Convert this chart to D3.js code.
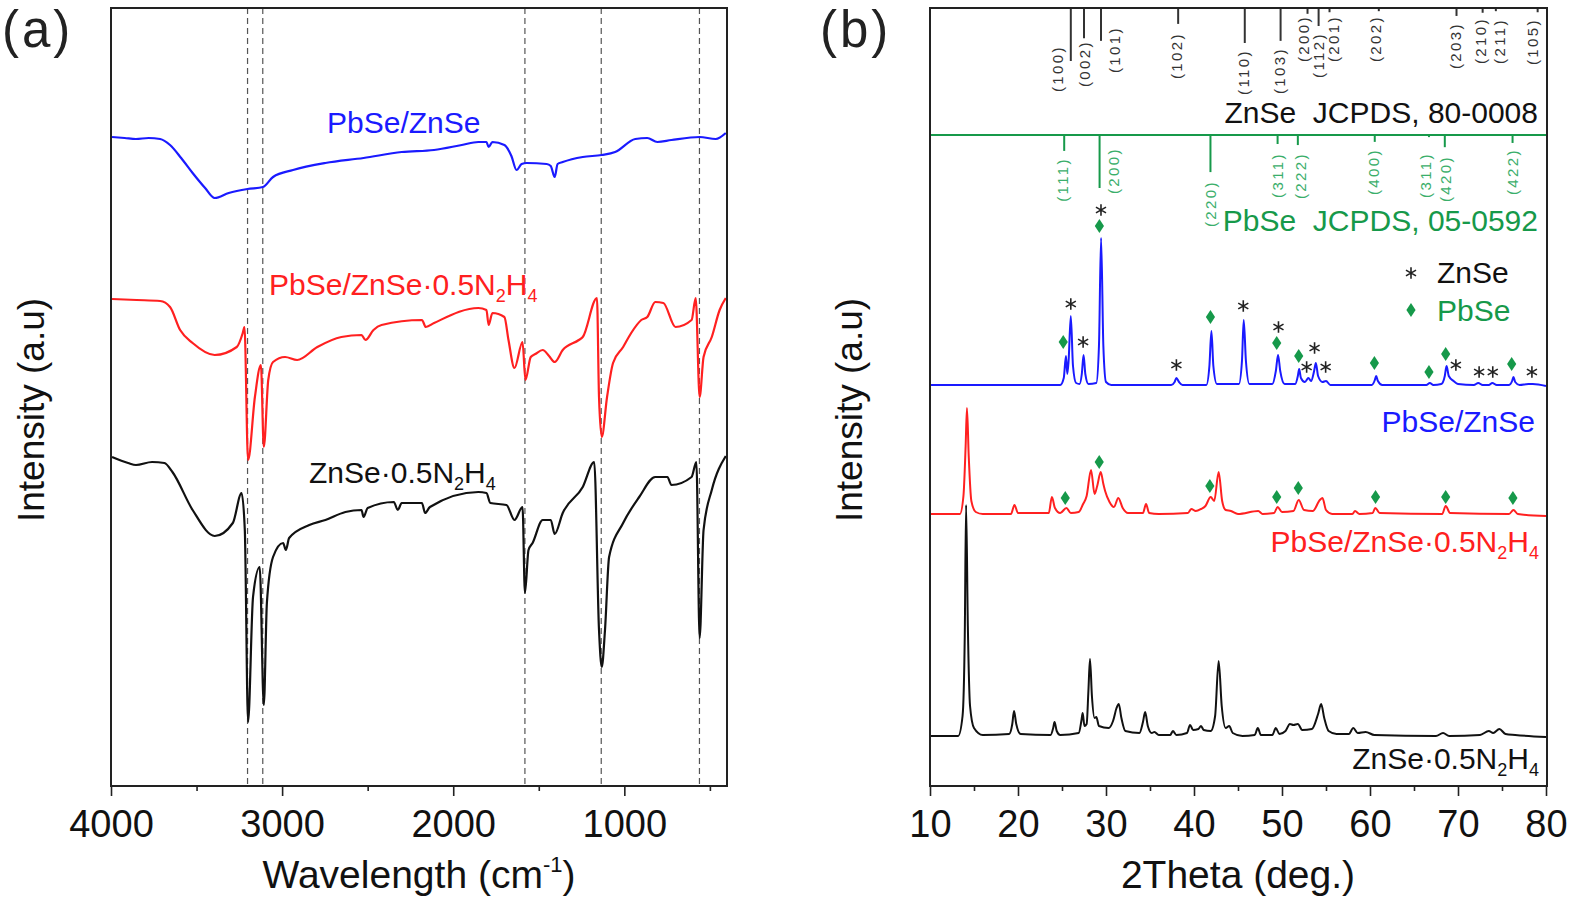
<!DOCTYPE html>
<html lang="en">
<head>
<meta charset="UTF-8">
<title>FTIR and XRD of PbSe/ZnSe</title>
<script src="https://d3js.org/d3.v7.min.js"></script>
<style>
  body { margin: 0; background: #fff; }
  svg text { font-family: "Liberation Sans", Arial, sans-serif; }
</style>
</head>
<body>
<svg width="1570" height="902"></svg>
<script>
// ---------- panel (a): FTIR, [wavenumber, intensity] ----------
const ftirBlue = [[3994,649],[3920,648],[3854,647],[3780,648],[3713,647],[3655,641],[3590,628],[3523,613],[3450,598],[3394,588],[3312,593],[3202,597],[3112,599],[3053,609],[2936,616],[2747,623],[2524,628],[2301,634],[2112,636],[1950,641],[1853,644],[1806,644],[1793,639],[1771,644],[1701,641],[1660,630],[1630,616],[1600,622],[1571,623],[1454,622],[1430,620],[1407,609],[1390,622],[1360,624],[1243,629],[1132,631],[1054,634],[936,647],[866,648],[807,644],[725,646],[560,649],[466,647],[407,653]];
const ftirRed = [[3994,487],[3850,486],[3713,485],[3655,479],[3596,456],[3523,443],[3394,431],[3265,439],[3230,453],[3220,459],[3199,326],[3159,389],[3124,421],[3107,339],[3081,406],[3053,424],[2983,429],[2912,426],[2794,439],[2654,449],[2536,451],[2513,446],[2466,456],[2419,461],[2183,466],[2160,459],[2112,463],[1853,478],[1806,476],[1793,461],[1771,473],[1701,469],[1677,446],[1642,418],[1595,444],[1578,406],[1547,429],[1520,432],[1477,436],[1440,430],[1407,424],[1360,436],[1266,446],[1243,449],[1160,488],[1148,389],[1132,349],[1101,389],[1066,423],[1007,439],[960,453],[901,466],[866,469],[819,484],[772,483],[701,459],[607,466],[583,488],[560,389],[537,429],[489,449],[443,476],[407,488]];
const ftirBlack = [[3994,329],[3900,323],[3854,321],[3760,324],[3688,323],[3641,314],[3523,276],[3394,250],[3288,263],[3237,293],[3218,256],[3199,64],[3170,189],[3131,219],[3107,81],[3089,183],[3053,229],[2994,243],[2978,236],[2959,248],[2841,261],[2747,266],[2630,274],[2536,276],[2524,269],[2500,278],[2347,284],[2324,276],[2301,283],[2183,283],[2164,273],[2136,279],[1853,294],[1806,293],[1783,283],[1689,281],[1642,266],[1595,279],[1581,193],[1560,236],[1536,243],[1477,266],[1430,266],[1407,252],[1360,273],[1243,299],[1176,324],[1148,156],[1132,119],[1113,156],[1089,229],[1007,263],[913,289],[819,309],[748,309],[725,301],[607,309],[579,324],[560,148],[537,256],[489,296],[407,330]];
const ftirGuides = [3202, 3113, 1581, 1135, 561];
const ftirTicks = [4000, 3000, 2000, 1000];
const ftirMinor = [3500, 2500, 1500, 500];

// ---------- panel (b): XRD, [2theta, intensity] ----------
const xrdBlue = [[10,401],[20,401],[24.8,401],[25.2,408],[25.45,430],[25.6,412],[25.75,425],[26.0,470],[26.25,420],[26.6,403],[27.0,402],[27.25,412],[27.45,431],[27.65,412],[28.0,402],[28.9,403],[29.2,440],[29.44,548],[29.7,440],[30.0,404],[30.6,401],[37.4,401],[37.8,404],[38.0,408],[38.3,404],[38.7,401],[41.4,401],[41.75,420],[41.98,455],[42.2,420],[42.6,402],[45.1,402],[45.45,425],[45.65,466],[45.9,425],[46.3,402],[48.9,402],[49.3,415],[49.55,431],[49.8,415],[50.3,402],[51.5,402],[51.8,410],[51.95,417],[52.15,408],[52.6,404],[53.0,408],[53.3,405],[53.65,415],[53.85,423],[54.1,410],[54.6,404],[55.0,405],[55.5,401],[60.2,401],[60.55,406],[60.7,410],[60.9,405],[61.4,401],[66.4,401],[66.8,403],[67.2,401],[68.1,402],[68.5,410],[68.7,420],[68.95,410],[69.5,405],[70.0,402],[71.8,401],[72.3,403],[72.8,401],[73.5,401],[73.9,403],[74.4,401],[75.8,401],[76.15,405],[76.3,409],[76.5,404],[77.0,401],[78.0,402],[78.5,402],[80,400]];
const xrdRed = [[10,272],[13.4,272],[13.8,290],[14.05,340],[14.2,378],[14.4,330],[14.7,285],[15.2,274],[16,272],[19.2,272],[19.6,281],[20.0,273],[23.5,273],[23.85,289],[24.2,278],[24.8,273],[25.5,278],[26.0,273],[26.9,274],[27.4,282],[27.8,290],[28.3,316],[28.7,292],[29.0,300],[29.4,314],[29.7,302],[29.9,295],[30.4,284],[30.9,279],[31.4,288],[31.9,278],[32.5,273],[34.2,273],[34.55,282],[34.9,273],[36,272],[39.3,273],[39.7,277],[40.2,275],[40.8,277],[41.3,280],[41.9,289],[42.3,285],[42.8,314],[43.2,285],[43.6,276],[44.2,275],[45,272],[47.3,275],[47.8,272],[49.1,273],[49.5,279],[50.0,274],[51.3,275],[51.9,286],[52.5,276],[53.5,275],[54.3,286],[54.6,288],[55.0,276],[55.7,272],[58.0,272],[58.3,275],[58.8,272],[60.3,273],[60.6,278],[61.1,273],[68.2,272],[68.6,280],[69.1,273],[75.8,272],[76.3,276],[76.8,272],[80,270]];
const xrdBlack = [[10,50],[13.2,50],[13.7,70],[13.95,150],[14.1,281],[14.3,160],[14.55,80],[15.0,58],[16,51],[19.0,52],[19.35,62],[19.55,75],[19.8,62],[20.3,52],[23.7,51],[24.0,58],[24.15,64],[24.4,55],[24.8,51],[26.9,53],[27.2,65],[27.35,73],[27.55,60],[27.8,62],[28.0,95],[28.18,127],[28.4,90],[28.7,68],[28.9,69],[29.2,60],[30.3,58],[30.8,65],[31.2,78],[31.45,82],[31.75,68],[32.2,55],[33.8,53],[34.2,64],[34.45,74],[34.75,60],[35.2,53],[35.5,54],[36.0,51],[37.3,51],[37.6,55],[38.0,51],[39.2,53],[39.55,61],[39.9,56],[40.5,57],[40.8,60],[41.1,56],[41.9,55],[42.4,70],[42.8,125],[43.15,80],[43.6,58],[44.0,60],[44.4,53],[45.5,50],[46.9,51],[47.25,58],[47.6,51],[48.9,51],[49.3,58],[49.7,52],[50.4,55],[50.9,62],[51.3,61],[51.8,62],[52.3,56],[53.4,57],[54.1,72],[54.45,82],[54.8,68],[55.3,55],[56.2,52],[57.6,52],[58.1,58],[58.6,53],[59.5,54],[60.5,51],[67.5,50],[68.3,53],[69,50],[72.5,51],[73.5,55],[74.0,53],[74.7,57],[75.4,52],[76.5,51],[80,49]];

// reference patterns (relative intensity)
const znseTheta = [26.0, 27.5, 29.43, 38.2, 45.77, 49.84, 52.9, 54.16, 55.4, 61.0, 69.83, 72.8, 74.3, 79.05];
const znseHkl   = ["(100)","(002)","(101)","(102)","(110)","(103)","(200)","(112)","(201)","(202)","(203)","(210)","(211)","(105)"];
const znseInt   = [100, 57, 62, 30, 66, 62, 11, 34, 8, 6, 15, 9, 6, 8];
const pbseTheta = [25.25, 29.27, 41.87, 49.5, 51.8, 60.54, 66.7, 68.5, 76.2];
const pbseHkl   = ["(111)","(200)","(220)","(311)","(222)","(400)","(311)","(420)","(422)"];
const pbseInt   = [30, 100, 70, 17, 19, 13, 4, 23, 15];

// phase markers over the XRD patterns, [2theta, intensity]
const blueStars = [[26.0,482],[27.4,444],[29.43,576],[38.0,421],[45.6,480],[49.6,459],[52.8,419],[53.7,438],[54.96,419],[69.76,421],[72.4,414],[73.95,414],[78.4,414]];
const blueDiamonds = [[25.14,444],[29.25,560],[41.87,469],[49.4,443],[51.9,430],[60.5,423],[66.7,414],[68.6,432],[76.1,422]];
const redDiamonds = [[25.37,288],[29.23,324],[41.8,300],[49.4,289],[51.85,298],[60.63,289],[68.6,289],[76.24,288]];
const xrdTicks = [10, 20, 30, 40, 50, 60, 70, 80];
const xrdMinor = [15, 25, 35, 45, 55, 65, 75];

// label placement for hkl tags: [dx from stick, top y]
const znseLbl = [[-13,45],[1,40],[14,26],[-1,32],[-1,49],[-1,47],[-4,15],[0,32],[4,15],[-3,15],[-1,22],[-2,17],[4,18],[-5,18]];
const pbseLbl = [[-1,157],[14,147],[0,180],[0,152],[3,152],[-1,148],[-3,152],[1,155],[0,148]];

const BLUE = "#1a1aff", RED = "#ff2020", BLACK = "#111", GREEN = "#16994a", LGREEN = "#3aae6a";
const svg = d3.select("svg");
const yTop = 8, yBottom = 786;
const y = d3.scaleLinear().domain([0, 778]).range([yBottom, yTop]);
const xa = d3.scaleLinear().domain([4000, 400]).range([111, 727]);
const xb = d3.scaleLinear().domain([10, 80]).range([930, 1546]);

function frame(x0, x1) {
  svg.append("rect").attr("x", x0).attr("y", yTop).attr("width", x1 - x0).attr("height", yBottom - yTop)
    .attr("fill", "none").attr("stroke", "#222").attr("stroke-width", 2);
}

function bottomAxis(scale, major, minor) {
  const g = svg.append("g").attr("transform", `translate(0,${yBottom})`);
  g.call(d3.axisBottom(scale).tickValues(minor).tickSize(5).tickSizeOuter(0).tickFormat(""));
  const gm = svg.append("g").attr("transform", `translate(0,${yBottom})`);
  gm.call(d3.axisBottom(scale).tickValues(major).tickSize(10).tickSizeOuter(0).tickPadding(14).tickFormat(d3.format("d")));
  [g, gm].forEach(s => {
    s.select(".domain").remove();
    s.selectAll("line").attr("stroke", "#222").attr("stroke-width", 1.6);
  });
  gm.selectAll("text").attr("font-size", 38).attr("fill", "#111")
    .attr("font-family", "'Liberation Sans', Arial, sans-serif");
}

function yLabel(x) {
  svg.append("text").attr("transform", `translate(${x},410) rotate(-90)`)
    .attr("text-anchor", "middle").attr("font-size", 37).attr("fill", "#111").text("Intensity (a.u)");
}

// text with N2H4 subscripts
function hydrazineLabel(x, yy, anchor, color, prefix) {
  const t = svg.append("text").attr("x", x).attr("y", yy).attr("text-anchor", anchor)
    .attr("font-size", 30).attr("fill", color);
  t.append("tspan").text(prefix + "\u00b70.5N");
  t.append("tspan").attr("font-size", 18).attr("dy", 7).text("2");
  t.append("tspan").attr("dy", -7).text("H");
  t.append("tspan").attr("font-size", 18).attr("dy", 7).text("4");
}

const diamondType = {
  draw(ctx, size) {
    const w = 4.6, h = 7;
    ctx.moveTo(0, -h); ctx.lineTo(w, 0); ctx.lineTo(0, h); ctx.lineTo(-w, 0); ctx.closePath();
  }
};

// ---------- panel (a) ----------
svg.append("g").selectAll("line").data(ftirGuides).enter().append("line")
  .attr("x1", d => xa(d)).attr("x2", d => xa(d)).attr("y1", yTop).attr("y2", yBottom)
  .attr("stroke", "#555").attr("stroke-width", 1.2).attr("stroke-dasharray", "6,4");

const lineA = d3.line().x(d => xa(d[0])).y(d => y(d[1])).curve(d3.curveMonotoneX);
[[ftirBlue, BLUE], [ftirRed, RED], [ftirBlack, BLACK]].forEach(([data, c]) => {
  svg.append("path").datum(data).attr("d", lineA).attr("fill", "none")
    .attr("stroke", c).attr("stroke-width", 2.2).attr("stroke-linejoin", "round");
});

frame(111, 727);
bottomAxis(xa, ftirTicks, ftirMinor);
yLabel(44);

svg.append("text").attr("x", 327).attr("y", 133).attr("font-size", 30).attr("fill", BLUE).text("PbSe/ZnSe");
hydrazineLabel(269, 295, "start", RED, "PbSe/ZnSe");
hydrazineLabel(309, 483, "start", BLACK, "ZnSe");

const titleA = svg.append("text").attr("x", 419).attr("y", 888).attr("text-anchor", "middle")
  .attr("font-size", 39).attr("fill", "#111");
titleA.append("tspan").text("Wavelength (cm");
titleA.append("tspan").attr("font-size", 22).attr("dy", -16).text("-1");
titleA.append("tspan").attr("dy", 16).text(")");

svg.append("text").attr("x", 2).attr("y", 47).attr("font-size", 51).attr("letter-spacing", 3)
  .attr("fill", "#222").text("(a)");

// ---------- panel (b) ----------
const stickLen = d3.scaleLinear().domain([0, 100]).range([0, 53]);
const greenY = 135;

// ZnSe reference sticks
svg.append("g").selectAll("line").data(znseTheta).enter().append("line")
  .attr("x1", d => xb(d)).attr("x2", d => xb(d)).attr("y1", yTop)
  .attr("y2", (d, i) => yTop + stickLen(znseInt[i]))
  .attr("stroke", "#333").attr("stroke-width", 2);
svg.append("g").selectAll("text").data(znseHkl).enter().append("text")
  .attr("transform", (d, i) => `translate(${xb(znseTheta[i]) + znseLbl[i][0]},${znseLbl[i][1]}) rotate(-90)`)
  .attr("text-anchor", "end").attr("dy", "0.35em").attr("font-size", 15).attr("letter-spacing", 2.4)
  .attr("fill", "#333").text(d => d);

// PbSe reference sticks
svg.append("line").attr("x1", 930).attr("x2", 1547).attr("y1", greenY).attr("y2", greenY)
  .attr("stroke", GREEN).attr("stroke-width", 2.2);
svg.append("g").selectAll("line").data(pbseTheta).enter().append("line")
  .attr("x1", d => xb(d)).attr("x2", d => xb(d)).attr("y1", greenY)
  .attr("y2", (d, i) => greenY + stickLen(pbseInt[i]))
  .attr("stroke", GREEN).attr("stroke-width", 2);
svg.append("g").selectAll("text").data(pbseHkl).enter().append("text")
  .attr("transform", (d, i) => `translate(${xb(pbseTheta[i]) + pbseLbl[i][0]},${pbseLbl[i][1]}) rotate(-90)`)
  .attr("text-anchor", "end").attr("dy", "0.35em").attr("font-size", 15).attr("letter-spacing", 2.4)
  .attr("fill", LGREEN).text(d => d);

svg.append("text").attr("x", 1538).attr("y", 123).attr("text-anchor", "end").attr("font-size", 30)
  .attr("fill", "#111").style("white-space", "pre").text("ZnSe  JCPDS, 80-0008");
svg.append("text").attr("x", 1538).attr("y", 231).attr("text-anchor", "end").attr("font-size", 30)
  .attr("fill", GREEN).style("white-space", "pre").text("PbSe  JCPDS, 05-0592");

const lineB = d3.line().x(d => xb(d[0])).y(d => y(d[1])).curve(d3.curveMonotoneX);
[[xrdBlue, BLUE], [xrdRed, RED], [xrdBlack, BLACK]].forEach(([data, c]) => {
  svg.append("path").datum(data).attr("d", lineB).attr("fill", "none")
    .attr("stroke", c).attr("stroke-width", 2).attr("stroke-linejoin", "round");
});

const star = d3.symbol(d3.symbolAsterisk, 95);
const diamond = d3.symbol(diamondType, 64);
svg.append("g").selectAll("path").data(blueStars).enter().append("path")
  .attr("d", star).attr("transform", d => `translate(${xb(d[0])},${y(d[1])})`)
  .attr("fill", "none").attr("stroke", "#222").attr("stroke-width", 1.6);
svg.append("g").selectAll("path").data(blueDiamonds.concat(redDiamonds)).enter().append("path")
  .attr("d", diamond).attr("transform", d => `translate(${xb(d[0])},${y(d[1])})`)
  .attr("fill", GREEN);

// legend
svg.append("path").attr("d", star).attr("transform", "translate(1411,273)")
  .attr("fill", "none").attr("stroke", "#222").attr("stroke-width", 1.6);
svg.append("text").attr("x", 1437).attr("y", 283).attr("font-size", 30).attr("fill", "#111").text("ZnSe");
svg.append("path").attr("d", diamond).attr("transform", "translate(1411,310)").attr("fill", GREEN);
svg.append("text").attr("x", 1437).attr("y", 321).attr("font-size", 30).attr("fill", GREEN).text("PbSe");

svg.append("text").attr("x", 1535).attr("y", 432).attr("text-anchor", "end").attr("font-size", 30)
  .attr("fill", BLUE).text("PbSe/ZnSe");
hydrazineLabel(1539, 552, "end", RED, "PbSe/ZnSe");
hydrazineLabel(1539, 769, "end", BLACK, "ZnSe");

frame(930, 1547);
bottomAxis(xb, xrdTicks, xrdMinor);
yLabel(862);

svg.append("text").attr("x", 1238).attr("y", 888).attr("text-anchor", "middle")
  .attr("font-size", 39).attr("fill", "#111").text("2Theta (deg.)");
svg.append("text").attr("x", 820).attr("y", 47).attr("font-size", 51).attr("letter-spacing", 3)
  .attr("fill", "#222").text("(b)");
</script>
</body>
</html>
